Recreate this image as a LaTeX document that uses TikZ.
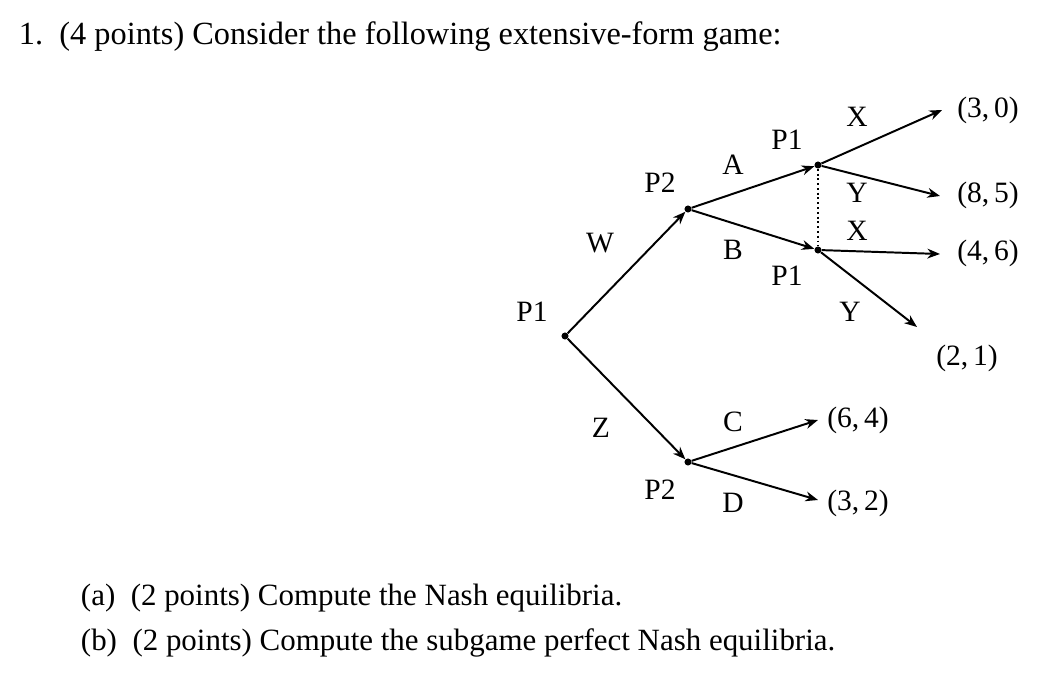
\documentclass[tikz,border=0pt]{standalone}
\usepackage{fontspec}
\setmainfont{Liberation Serif}
\usetikzlibrary{arrows.meta}
\begin{document}
\begin{tikzpicture}[x=0.025cm,y=-0.025cm,
  dot/.style={circle,fill,inner sep=0pt,minimum size=5pt},
  lbl/.style={font=\fontsize{21}{24}\selectfont},
  arr/.style={line width=1.4pt,-{Stealth[length=9pt,width=7pt]}}]
\useasboundingbox (0,0) rectangle (1064,678);
\node[anchor=west,font=\fontsize{23}{27}\selectfont] (title) at (14,37) {1.\ \ (4 points) Consider the following extensive-form game:};
\node[dot] (r) at (565,336) {};
\node[dot] (u) at (688,209) {};
\node[dot] (d) at (688,462) {};
\node[dot] (a) at (818,165) {};
\node[dot] (b) at (818,250) {};
\coordinate (x1) at (942,110);
\coordinate (y1) at (940,196);
\coordinate (x2) at (940,254);
\coordinate (y2) at (917,327);
\coordinate (c) at (818,420);
\coordinate (dd) at (818,500);
\draw[arr] (r) -- (u);
\draw[arr] (r) -- (d);
\draw[arr] (u) -- (a);
\draw[arr] (u) -- (b);
\draw[arr] (a) -- (x1);
\draw[arr] (a) -- (y1);
\draw[arr] (b) -- (x2);
\draw[arr] (b) -- (y2);
\draw[arr] (d) -- (c);
\draw[arr] (d) -- (dd);
\draw[line width=1.4pt,dotted] (a) -- (b);
\node[lbl] (lp1) at (532,312) {P1};
\node[lbl] (lw) at (600,243) {W};
\node[lbl] (lz) at (601,428) {Z};
\node[lbl] (lp2a) at (660,183) {P2};
\node[lbl] (lp2b) at (660,490) {P2};
\node[lbl] (la) at (733,165) {A};
\node[lbl] (lb) at (733,250) {B};
\node[lbl] (lp1a) at (787,140) {P1};
\node[lbl] (lp1b) at (787,276) {P1};
\node[lbl] (lx1) at (857,117) {X};
\node[lbl] (ly1) at (857,193) {Y};
\node[lbl] (lx2) at (857,231) {X};
\node[lbl] (ly2) at (850,312) {Y};
\node[lbl] (lc) at (733,422) {C};
\node[lbl] (ld) at (733,503) {D};
\node[lbl] (p1) at (988,110) {(3,\,0)};
\node[lbl] (p2) at (988,195) {(8,\,5)};
\node[lbl] (p3) at (988,253) {(4,\,6)};
\node[lbl] (p4) at (967,358) {(2,\,1)};
\node[lbl] (p5) at (858,420) {(6,\,4)};
\node[lbl] (p6) at (858,503) {(3,\,2)};
\node[anchor=west,font=\fontsize{22}{26}\selectfont] (qa) at (76,598) {(a)\ \ (2 points) Compute the Nash equilibria.};
\node[anchor=west,font=\fontsize{22}{26}\selectfont] (qb) at (76,643) {(b)\ \ (2 points) Compute the subgame perfect Nash equilibria.};
\end{tikzpicture}
\end{document}
